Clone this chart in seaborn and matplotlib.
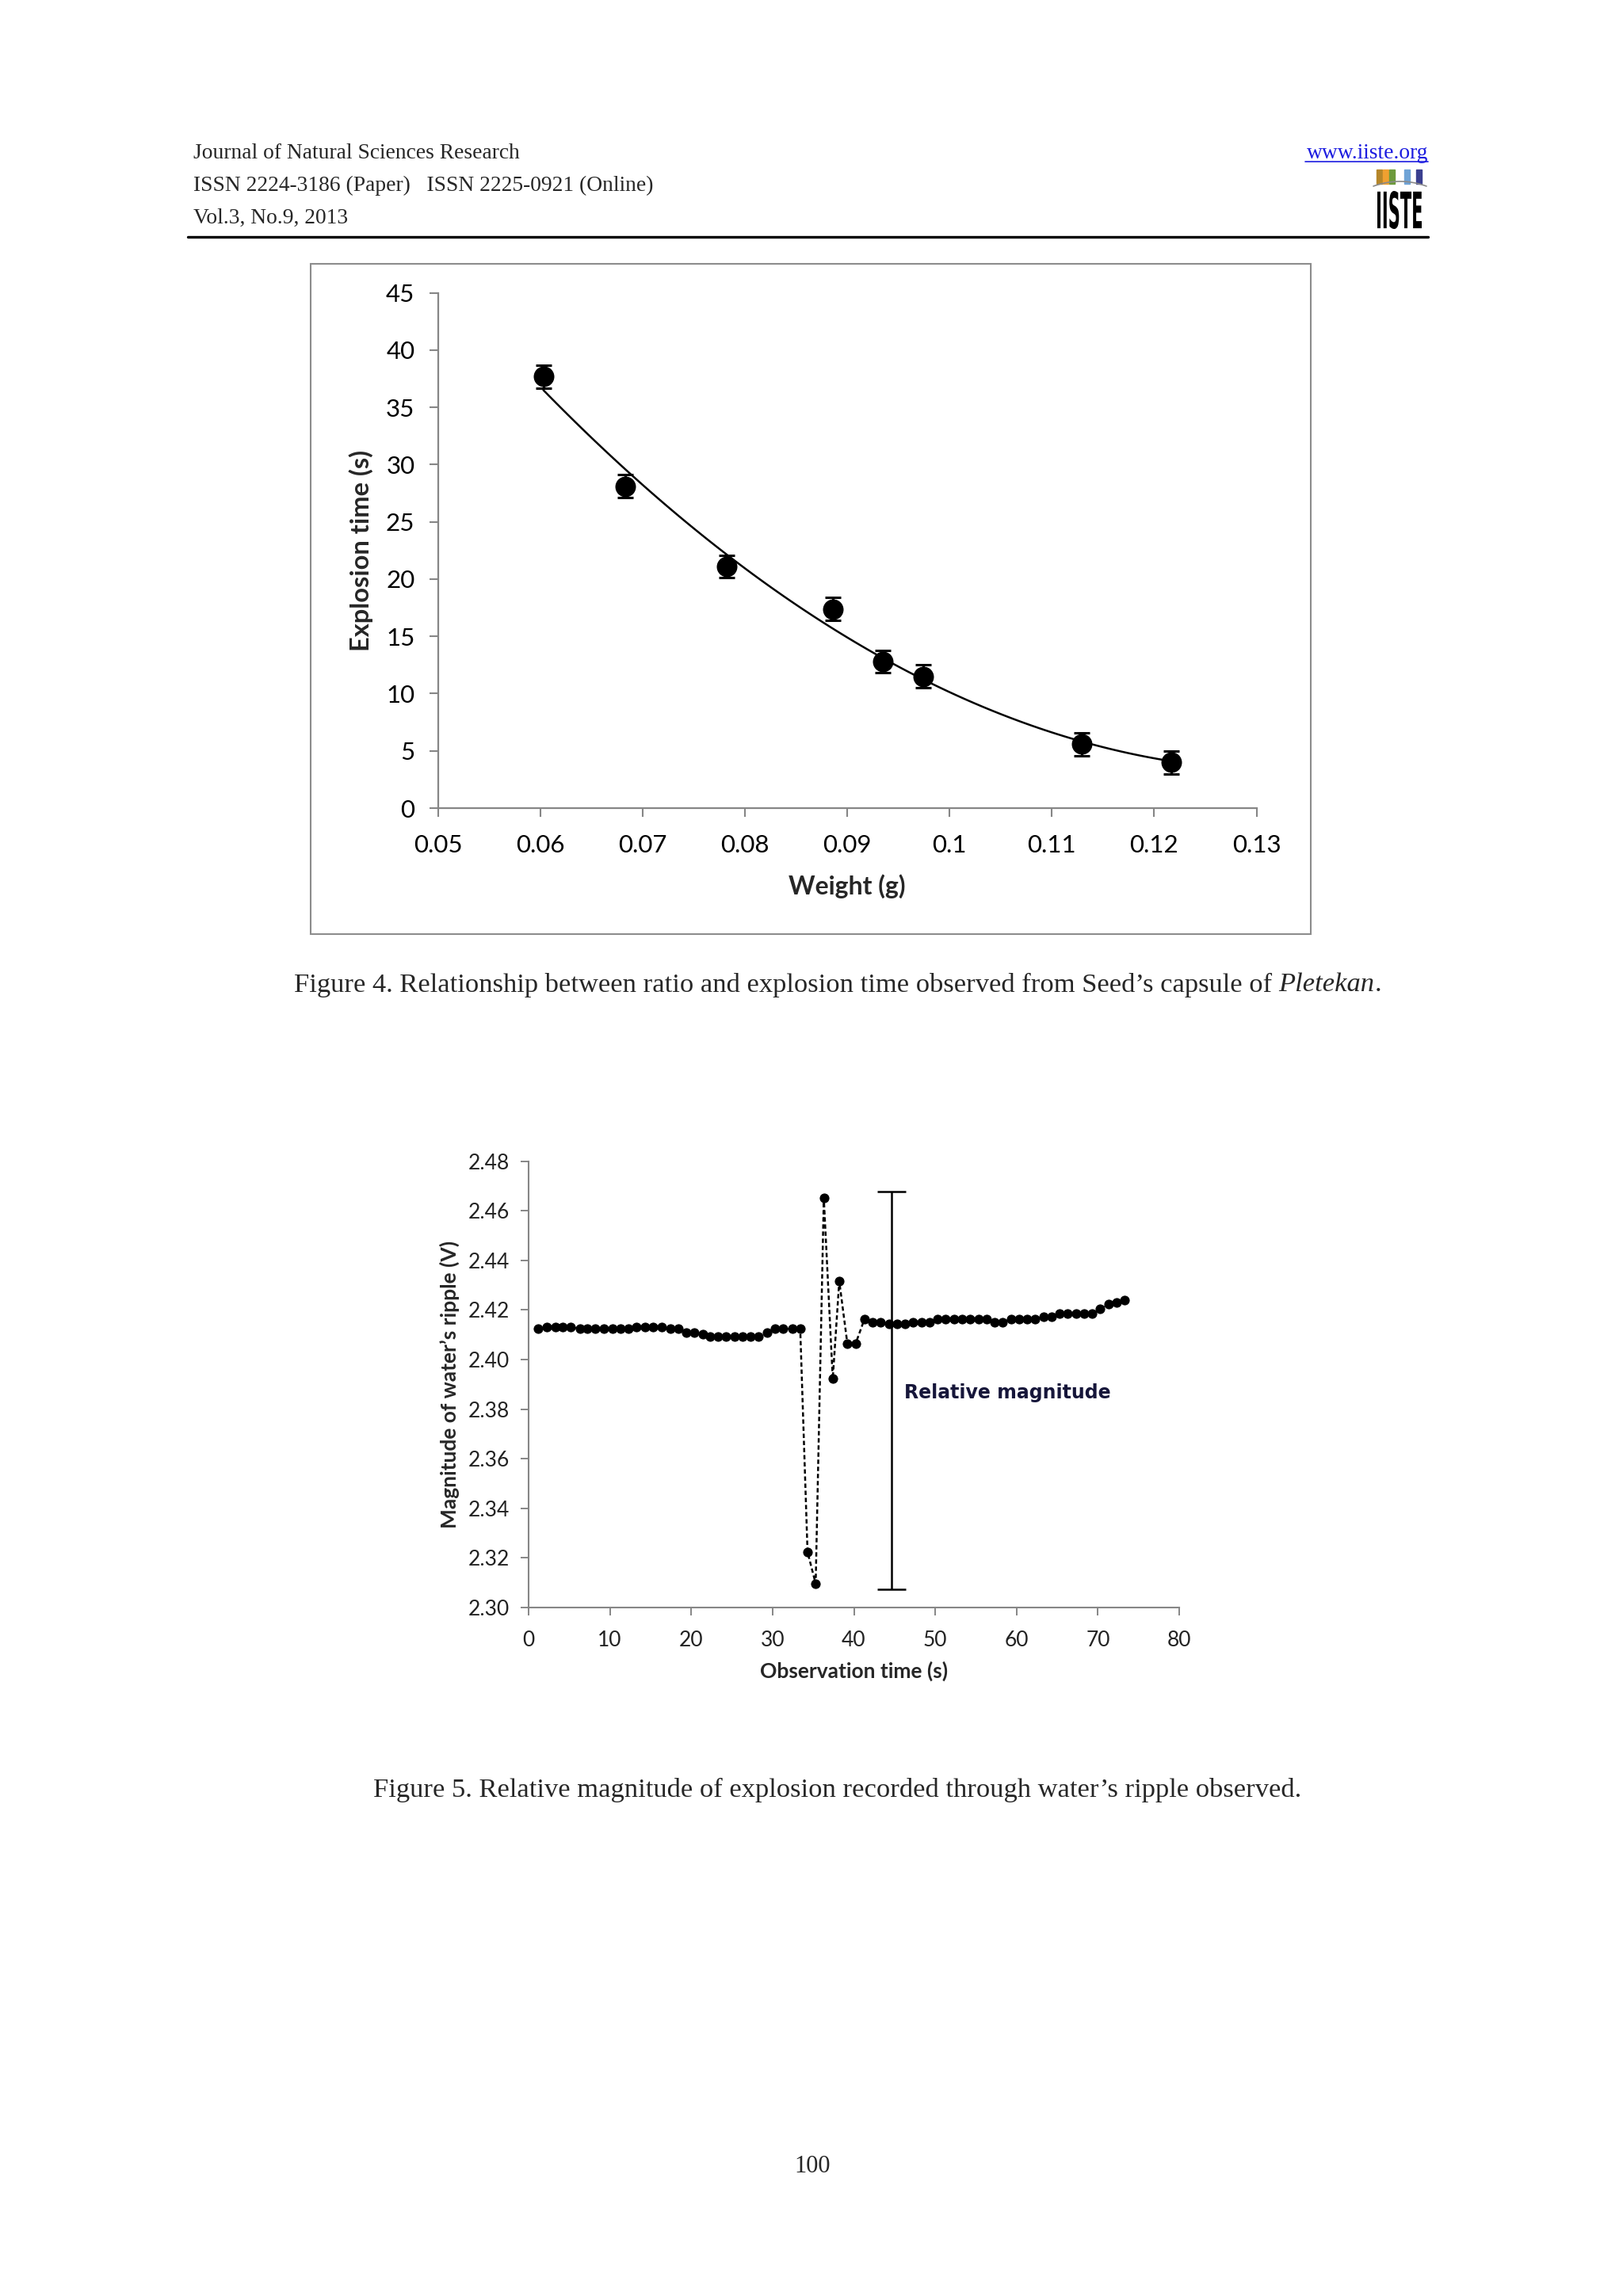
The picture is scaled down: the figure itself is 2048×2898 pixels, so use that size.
import numpy as np
import pandas as pd
import seaborn as sns
import matplotlib.pyplot as plt
from matplotlib.patches import Rectangle, PathPatch
from matplotlib.textpath import TextPath
from matplotlib.font_manager import FontProperties
from matplotlib.transforms import Affine2D

# ---- Figure 4: weight vs explosion time ----
weight = [0.0603, 0.0683, 0.0782, 0.0886, 0.0935, 0.0974, 0.1129, 0.1217]
expl_time = [37.7, 28.1, 21.1, 17.4, 12.8, 11.5, 5.6, 4.0]
expl_err = [1.0, 1.0, 1.0, 1.0, 1.0, 1.0, 1.0, 1.0]
w_ticks = [0.05, 0.06, 0.07, 0.08, 0.09, 0.10, 0.11, 0.12, 0.13]
w_ticklabels = ['0.05', '0.06', '0.07', '0.08', '0.09', '0.1', '0.11', '0.12', '0.13']
t_ticks = [0, 5, 10, 15, 20, 25, 30, 35, 40, 45]

# ---- Figure 5: water ripple over time ----
obs_time = [1.2, 2.2, 3.3, 4.2, 5.2, 6.3, 7.2, 8.2, 9.3, 10.3, 11.3, 12.3, 13.3,
            14.3, 15.3, 16.4, 17.4, 18.4, 19.4, 20.4, 21.4, 22.3, 23.3, 24.3,
            25.3, 26.3, 27.3, 28.3, 29.3, 30.3, 31.3, 32.4, 33.4,
            34.3, 35.3, 36.3, 37.4, 38.2, 39.2, 40.2,
            41.3, 42.3, 43.3, 44.3, 45.3, 46.3, 47.3, 48.3, 49.3, 50.3, 51.3,
            52.3, 53.3, 54.3, 55.3, 56.3, 57.3, 58.3, 59.3, 60.3, 61.3, 62.3,
            63.3, 64.3, 65.3, 66.3, 67.3, 68.3, 69.3, 70.3, 71.3, 72.3, 73.3]
ripple = [2.4124, 2.4131, 2.4131, 2.4131, 2.4131, 2.4124, 2.4124, 2.4124, 2.4124,
          2.4124, 2.4124, 2.4124, 2.4131, 2.4131, 2.4131, 2.4131, 2.4124, 2.4124,
          2.4109, 2.4109, 2.4103, 2.4092, 2.4092, 2.4092, 2.4092, 2.4092, 2.4092,
          2.4092, 2.4110, 2.4124, 2.4124, 2.4124, 2.4124,
          2.3224, 2.3096, 2.4651, 2.3922, 2.4316, 2.4063, 2.4063,
          2.4163, 2.4150, 2.4150, 2.4143, 2.4143, 2.4143, 2.4150, 2.4150, 2.4150,
          2.4163, 2.4163, 2.4163, 2.4163, 2.4163, 2.4163, 2.4163, 2.4150, 2.4150,
          2.4163, 2.4163, 2.4163, 2.4163, 2.4173, 2.4173, 2.4184, 2.4184, 2.4184,
          2.4184, 2.4184, 2.4203, 2.4224, 2.4231, 2.4238]
relmag_x = 44.6
relmag_low = 2.3075
relmag_high = 2.4678
r_ticks = [2.30, 2.32, 2.34, 2.36, 2.38, 2.40, 2.42, 2.44, 2.46, 2.48]
o_ticks = [0, 10, 20, 30, 40, 50, 60, 70, 80]

W, H = 2048, 2898


def fx(x):
    return x / W


def fy(y):
    return 1 - y / H


def main():
    sns.set_style("white")
    plt.rcParams['font.family'] = ['Lato', 'DejaVu Sans']
    fig = plt.figure(figsize=(W / 100, H / 100), dpi=100)
    fig.patch.set_facecolor('white')

    serif = ['Liberation Serif', 'DejaVu Serif']

    # page header
    fig.text(fx(244), fy(193), 'Journal of Natural Sciences Research', family=serif,
             fontsize=19.8, va='center', ha='left')
    fig.text(fx(244), fy(234), 'ISSN 2224-3186 (Paper)   ISSN 2225-0921 (Online)', family=serif,
             fontsize=19.8, va='center', ha='left')
    fig.text(fx(244), fy(275), 'Vol.3, No.9, 2013', family=serif,
             fontsize=19.8, va='center', ha='left')
    fig.text(fx(1802), fy(193), 'www.iiste.org', family=serif, color='#1c1ce0',
             fontsize=19.8, va='center', ha='right')
    fig.add_artist(plt.Line2D([fx(1647), fx(1802)], [fy(204), fy(204)], color='#1c1ce0', lw=1.2,
                              transform=fig.transFigure))
    fig.add_artist(plt.Line2D([fx(237), fx(1802)], [fy(299), fy(299)], color='black', lw=2.4,
                              transform=fig.transFigure))

    # IISTE logo
    lax = fig.add_axes([fx(1730), fy(292), fx(1802) - fx(1730), (292 - 212) / H])
    lax.set_xlim(0, 72)
    lax.set_ylim(80, 0)
    lax.axis('off')
    bar_cols = ['#b5862a', '#f0a030', '#6d9a3c', '#6fa3d6', '#3a3f8f']
    bar_x = [7, 15, 23, 42, 57]
    for c, bx in zip(bar_cols, bar_x):
        lax.add_patch(Rectangle((bx, 2), 6.5, 18, color=c))
    arc_x = np.linspace(3, 70, 50)
    lax.plot(arc_x, 23 - 6 * (1 - ((arc_x - 36.5) / 33.5) ** 2), color='#8a8a8a', lw=1.2)
    tp = TextPath((0, 0), 'IISTE', prop=FontProperties(family='DejaVu Sans', weight='bold'))
    ext = tp.get_extents()
    sx = 56 / ext.width
    sy = 48 / ext.height
    tr = Affine2D().translate(-ext.x0, -ext.y0).scale(sx, -sy).translate(8, 77)
    lax.add_patch(PathPatch(tr.transform_path(tp), color='black', lw=0))

    # ---------- Figure 4 ----------
    fig.patches.append(Rectangle((fx(392), fy(1179)), fx(1654) - fx(392), (1179 - 333) / H,
                                 transform=fig.transFigure, fill=False, ec='#8c8c8c', lw=1.5))
    ax1 = fig.add_axes([fx(552.6), fy(1020), fx(1585.6) - fx(552.6), (1020 - 369.6) / H])
    df4 = pd.DataFrame({'weight': weight, 'time': expl_time, 'err': expl_err})
    sns.regplot(data=df4, x='weight', y='time', order=2, ci=None, scatter=False,
                line_kws=dict(color='black', lw=1.8), ax=ax1)
    ax1.errorbar(df4['weight'], df4['time'], yerr=df4['err'], fmt='none', ecolor='black',
                 elinewidth=2.2, capsize=7, capthick=2.2, zorder=3)
    sns.scatterplot(data=df4, x='weight', y='time', color='black', s=300, edgecolor='black',
                    zorder=4, ax=ax1)
    ax1.set_xlim(0.05, 0.13)
    ax1.set_ylim(0, 45)
    ax1.set_xticks(w_ticks)
    ax1.set_xticklabels(w_ticklabels)
    ax1.set_yticks(t_ticks)
    sns.despine(ax=ax1)
    for s in ['left', 'bottom']:
        ax1.spines[s].set_color('#868686')
        ax1.spines[s].set_linewidth(1.6)
    ax1.tick_params(direction='out', length=8, width=1.5, color='#868686', labelsize=22.5,
                    labelcolor='black', pad=13, left=True, bottom=True)
    ax1.tick_params(axis='x', pad=16)
    ax1.set_xlabel('Weight (g)', fontsize=23, fontweight='bold', va='center')
    ax1.set_ylabel('Explosion time (s)', fontsize=23.5, fontweight='bold', va='center')
    ax1.xaxis.set_label_coords(0.5, (1020 - 1119) / (1020 - 369.6))
    ax1.yaxis.set_label_coords((456 - 552.6) / (1585.6 - 552.6), 0.5)

    # caption of figure 4 (regular text followed by an italic name)
    cap_a = fig.text(0, fy(1243), 'Figure 4. Relationship between ratio and explosion time observed from Seed\u2019s capsule of ',
                     family=serif, fontsize=24.8, va='center', ha='left')
    cap_b = fig.text(0, fy(1243), 'Pletekan', family=serif, style='italic', fontsize=24.8,
                     va='center', ha='left')
    cap_c = fig.text(0, fy(1243), '.', family=serif, fontsize=24.8, va='center', ha='left')
    rend = fig.canvas.get_renderer()
    wa = cap_a.get_window_extent(rend).width
    wb = cap_b.get_window_extent(rend).width
    wc = cap_c.get_window_extent(rend).width
    x0 = 1057 - (wa + wb + wc) / 2
    cap_a.set_x(fx(x0))
    cap_b.set_x(fx(x0 + wa))
    cap_c.set_x(fx(x0 + wa + wb))

    # ---------- Figure 5 ----------
    ax2 = fig.add_axes([fx(667), fy(2029), fx(1488) - fx(667), (2029 - 1465.5) / H])
    df5 = pd.DataFrame({'obs': obs_time, 'ripple': ripple})
    sns.lineplot(data=df5, x='obs', y='ripple', color='black', lw=1.8, linestyle='--',
                 dashes=False, marker='o', markersize=8, markeredgecolor='black', ax=ax2)
    ax2.lines[0].set_dashes((2.2, 1.4))
    ax2.errorbar([relmag_x], [(relmag_low + relmag_high) / 2], yerr=[(relmag_high - relmag_low) / 2],
                 fmt='none', ecolor='black', elinewidth=1.8, capsize=13, capthick=1.8)
    ax2.text(46.2, 2.3866, 'Relative magnitude', family=['DejaVu Sans'], fontsize=17,
             fontweight='bold', color='#16163a', ha='left', va='center')
    ax2.set_xlim(0, 80)
    ax2.set_ylim(2.30, 2.48)
    ax2.set_xticks(o_ticks)
    ax2.set_yticks(r_ticks)
    ax2.set_yticklabels(['%.2f' % v for v in r_ticks])
    sns.despine(ax=ax2)
    for s in ['left', 'bottom']:
        ax2.spines[s].set_color('#868686')
        ax2.spines[s].set_linewidth(1.5)
    ax2.tick_params(direction='out', length=7, width=1.4, color='#868686', labelsize=19,
                    labelcolor='#222222', pad=10, left=True, bottom=True)
    ax2.tick_params(axis='x', pad=14)
    ax2.set_xlabel('Observation time (s)', fontsize=19, fontweight='bold', va='center')
    ax2.set_ylabel('Magnitude of water\u2019s ripple (V)', fontsize=19, fontweight='bold', va='center')
    ax2.xaxis.set_label_coords(0.5, (2029 - 2109) / (2029 - 1465.5))
    ax2.yaxis.set_label_coords((567 - 667) / (1488 - 667), 0.5)

    fig.text(fx(1057), fy(2259), 'Figure 5. Relative magnitude of explosion recorded through water\u2019s ripple observed.',
             family=serif, fontsize=24.8, va='center', ha='center')

    fig.text(fx(1025), fy(2734), '100', family=serif, fontsize=22, va='center', ha='center')

    plt.savefig('out.png', dpi=100)


if __name__ == "__main__":
    main()
